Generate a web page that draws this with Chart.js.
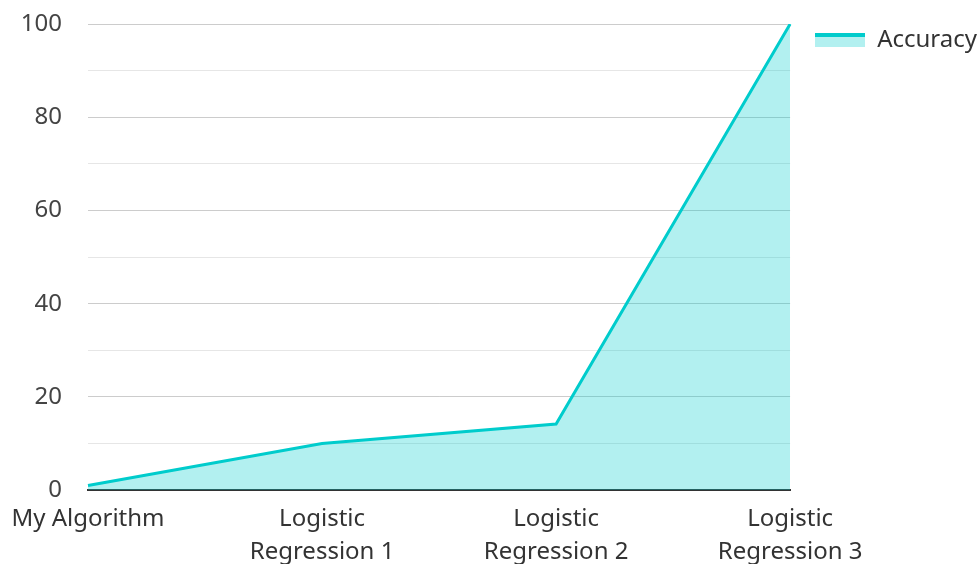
<!DOCTYPE html>
<html>
<head>
<meta charset="utf-8">
<script src="https://cdn.jsdelivr.net/npm/chart.js@4.4.1/dist/chart.umd.min.js"></script>
<style>
  html, body { margin: 0; padding: 0; background: #ffffff; overflow: hidden; }
  #wrap { position: relative; width: 980px; height: 581px; }
</style>
</head>
<body>
<div id="wrap"><canvas id="chart"></canvas></div>
<script>
// Model names along the x axis (multi-line labels)
const categories = [
  "My Algorithm",
  ["Logistic", "Regression 1"],
  ["Logistic", "Regression 2"],
  ["Logistic", "Regression 3"]
];
// Accuracy of each model
const accuracy = [1, 10, 14.2, 100];
const seriesName = "Accuracy";
// Labelled y ticks (minor lines every 10 are unlabelled)
const yTickLabels = [0, 20, 40, 60, 80, 100];

const LINE = "#00cccc";
const FILL = "rgba(0, 204, 204, 0.30)";
const FONT = "'Noto Sans', 'Open Sans', sans-serif";

// Legend swatch: coloured line on top of the area fill
function legendSwatch() {
  const c = document.createElement("canvas");
  c.width = 50; c.height = 14;
  const g = c.getContext("2d");
  g.fillStyle = FILL;
  g.fillRect(0, 0, 50, 14);
  g.fillStyle = LINE;
  g.fillRect(0, 0, 50, 4);
  return c;
}
const swatch = legendSwatch();

new Chart(document.getElementById("chart"), {
  type: "line",
  data: {
    labels: categories,
    datasets: [{
      label: seriesName,
      data: accuracy,
      borderColor: LINE,
      backgroundColor: FILL,
      borderWidth: 3,
      fill: "origin",
      tension: 0,
      pointRadius: 0,
      pointHoverRadius: 0,
      pointStyle: swatch
    }]
  },
  options: {
    responsive: true,
    maintainAspectRatio: false,
    animation: false,
    layout: { padding: { left: 21, top: 3, right: -7, bottom: 0 } },
    plugins: {
      tooltip: { enabled: false },
      legend: {
        position: "right",
        align: "start",
        labels: {
          usePointStyle: true,
          pointStyleWidth: 50,
          padding: 25,
          color: "#333333",
          font: { family: FONT, size: 24 }
        }
      }
    },
    scales: {
      x: {
        offset: false,
        grid: { display: false, drawTicks: false },
        border: { display: true, color: "#333333", width: 2 },
        ticks: {
          color: "#333333",
          padding: 13,
          maxRotation: 0,
          autoSkip: false,
          font: { family: FONT, size: 24, lineHeight: 1.35 }
        },
        afterFit: (scale) => { scale.paddingLeft = 0; scale.paddingRight = 0; }
      },
      y: {
        min: 0,
        max: 100,
        border: { display: false },
        grid: {
          drawTicks: false,
          lineWidth: 1,
          color: (ctx) => (yTickLabels.includes(ctx.tick.value) ? "#cccccc" : "#e6e6e6")
        },
        ticks: {
          stepSize: 10,
          padding: 26,
          color: "#444444",
          font: { family: FONT, size: 24 },
          callback: (v) => (yTickLabels.includes(v) ? String(v) : "")
        },
        afterFit: (scale) => { scale.width = 67; scale.paddingTop = 24; scale.paddingBottom = 0; }
      }
    }
  }
});
</script>
</body>
</html>
